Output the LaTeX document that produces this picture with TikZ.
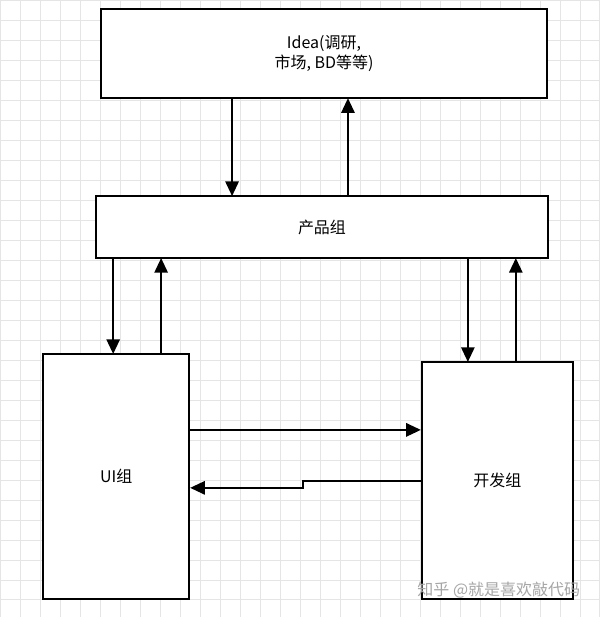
\documentclass[tikz,border=0pt]{standalone}
\usepackage{fontspec}
\setmainfont{Noto Sans CJK SC}
\usetikzlibrary{arrows.meta}
\begin{document}
\begin{tikzpicture}[x=0.75pt,y=-0.75pt,
  box/.style={draw=black,line width=1.6pt,fill=white,inner sep=0pt,font=\fontsize{12}{15}\selectfont,align=center},
  arr/.style={line width=1.4pt,-{Triangle[length=11pt,width=10pt]}}]
\fill[white] (0,0) rectangle (600,617);
\foreach \i in {0,20,...,600} {\draw[gray!20,line width=0.4pt] (\i,0) -- (\i,617);}
\foreach \j in {0,20,...,600} {\draw[gray!20,line width=0.4pt] (0,\j) -- (600,\j);}
\node[box,minimum width=446*0.75pt,minimum height=89*0.75pt] (idea) at (324,53.5) {Idea(调研,\\市场, BD等等)};
\node[box,minimum width=452*0.75pt,minimum height=62*0.75pt] (pm) at (322,227) {产品组};
\node[box,minimum width=146*0.75pt,minimum height=245*0.75pt] (ui) at (116,476.5) {UI组};
\node[box,minimum width=151*0.75pt,minimum height=237*0.75pt] (dev) at (497.5,480.5) {开发组};
\draw[arr] (232,98) -- (232,196);
\draw[arr] (348,196) -- (348,98);
\draw[arr] (113,258) -- (113,354);
\draw[arr] (161,354) -- (161,258);
\draw[arr] (468,258) -- (468,362);
\draw[arr] (516,362) -- (516,258);
\draw[arr] (ui.east |- 0,430) -- (dev.west |- 0,430);
\coordinate (m1) at (303,481);
\coordinate (m2) at (303,488);
\draw[arr] (dev.west |- 0,481) -- (m1) -- (m2) -- (ui.east |- 0,488);
\node[gray!70,font=\fontsize{12}{14}\selectfont,anchor=east] (wm) at (585,590) {知乎 @就是喜欢敲代码};
\end{tikzpicture}
\end{document}
